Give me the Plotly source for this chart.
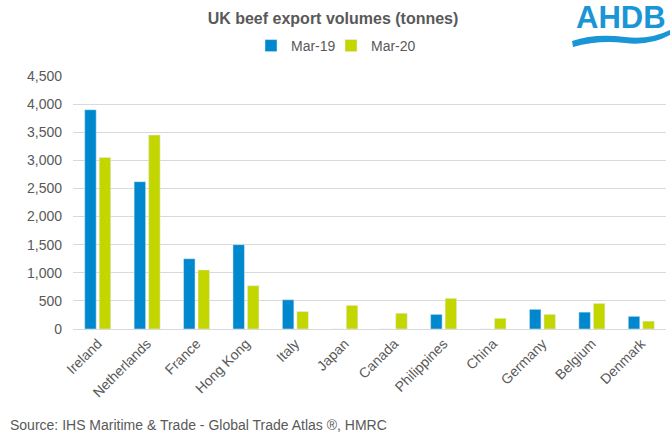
import plotly.graph_objects as go

countries = ["Ireland", "Netherlands", "France", "Hong Kong", "Italy", "Japan",
             "Canada", "Philippines", "China", "Germany", "Belgium", "Denmark"]
mar19 = [3900, 2620, 1250, 1500, 520, 0, 0, 260, 0, 350, 300, 225]
mar20 = [3050, 3450, 1050, 770, 310, 420, 280, 545, 190, 260, 455, 140]
series_names = ["Mar-19", "Mar-20"]
yticks = [0, 500, 1000, 1500, 2000, 2500, 3000, 3500, 4000, 4500]

BLUE = "#0088CE"
GREEN = "#C4D600"
GREY = "#595959"
W, H = 671, 442
L, R, T, B = 73, 5, 76, 113

fig = go.Figure()
fig.add_trace(go.Bar(x=countries, y=mar19, name=series_names[0], marker_color=BLUE,
                     legend="legend", showlegend=True))
fig.add_trace(go.Bar(x=countries, y=mar20, name=series_names[1], marker_color=GREEN,
                     legend="legend2", showlegend=True))

plot_w = W - L - R
plot_h = H - T - B


def px(X, Y):
    return (X - L) / plot_w, (H - B - Y) / plot_h


wave = [("M", 572, 41), ("Q", 595, 33, 625, 37), ("Q", 650, 40, 670, 30),
        ("L", 670, 35), ("Q", 650, 46, 625, 43), ("Q", 598, 40, 573, 47)]
parts = []
for seg in wave:
    cmd = seg[0]
    coords = seg[1:]
    pts = []
    for i in range(0, len(coords), 2):
        a, b = px(coords[i], coords[i + 1])
        pts.append(f"{a:.4f},{b:.4f}")
    parts.append(cmd + " " + " ".join(pts))
path = " ".join(parts) + " Z"

lx, ly = px(574, 17)
sx, sy = px(8, 425)

leg_common = dict(orientation="h", xref="container", xanchor="left",
                  y=1 - 46 / H, yref="container", yanchor="middle",
                  font=dict(size=14, color=GREY), itemwidth=30,
                  bgcolor="rgba(0,0,0,0)", visible=True)

fig.update_layout(
    width=W, height=H,
    showlegend=True,
    margin=dict(l=L, r=R, t=T, b=B),
    paper_bgcolor="white", plot_bgcolor="white",
    font=dict(family="Liberation Sans, Arial, sans-serif", color=GREY, size=14),
    title=dict(text="<b>UK beef export volumes (tonnes)</b>", x=333 / W, xref="container",
               xanchor="center", y=1 - 18 / H, yref="container", yanchor="middle",
               font=dict(size=16, color=GREY)),
    legend=dict(x=251 / W, **leg_common),
    legend2=dict(x=331 / W, **leg_common),
    bargap=0.413, bargroupgap=0.207,
    xaxis=dict(tickangle=-45, showline=True, linecolor="#D9D9D9", linewidth=1,
               ticks="", tickfont=dict(size=14, color=GREY)),
    yaxis=dict(range=[0, 4500], tickvals=yticks, tickformat=",", gridcolor="#D9D9D9",
               zeroline=False, ticks="", ticklabelstandoff=10,
               tickfont=dict(size=14, color=GREY)),
    shapes=[dict(type="path", path=path, xref="paper", yref="paper",
                 fillcolor="#1A95D5", line=dict(width=0))],
    annotations=[
        dict(text="<b>AHDB</b>", x=lx, y=ly, xref="paper", yref="paper",
             xanchor="left", yanchor="middle", showarrow=False,
             font=dict(size=31, color="#1A95D5", family="Liberation Sans, Arial")),
        dict(text="Source: IHS Maritime &amp; Trade - Global Trade Atlas ®, HMRC",
             x=sx, y=sy, xref="paper", yref="paper", xanchor="left", yanchor="middle",
             showarrow=False, font=dict(size=14, color=GREY)),
    ],
)

fig.write_html("out.html")
